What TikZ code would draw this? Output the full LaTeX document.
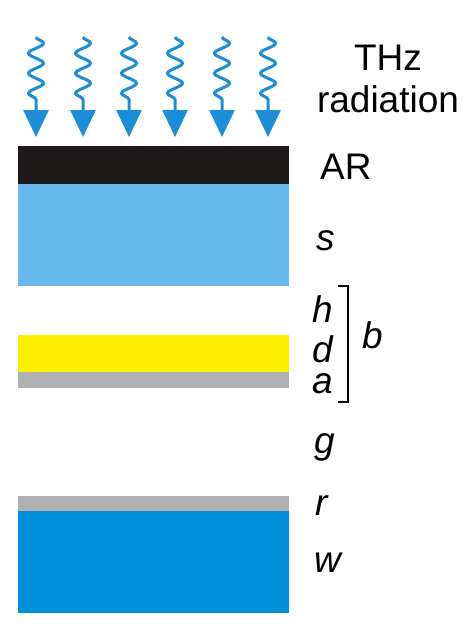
\documentclass[tikz,border=0pt]{standalone}
\usepackage{fontspec}
\setmainfont{Liberation Sans}
\usepackage{xcolor}
\usetikzlibrary{arrows.meta,decorations.pathmorphing}

\definecolor{raycol}{RGB}{27,142,215}
\definecolor{arcol}{RGB}{28,24,24}
\definecolor{subcol}{RGB}{104,186,238}
\definecolor{goldcol}{RGB}{255,240,0}
\definecolor{greycol}{RGB}{176,176,176}
\definecolor{wafcol}{RGB}{0,144,218}

\begin{document}
\begin{tikzpicture}[
    % GLOBAL CFG
    x=1pt, y=-1pt,
    font=\fontsize{37}{40}\selectfont,
    % Styles
    ray/.style={% wavy THz arrows
        draw=raycol,
        line width=3pt,
        decorate,
        decoration={snake, segment length=20pt, amplitude=7.5pt, post length=28pt},
        -{Triangle[width=25pt,length=27pt,fill=raycol]},
        },
    layer/.style={% For the stack
        draw=none,
        },
    lbl/.style={% For the layer names
        anchor=base west,
        inner sep=0pt,
        },
    tight/.style={% letters stacked close together
        lbl,
        text depth=0pt,
        },
    brace/.style={% For the bracket
        line width=1.8pt,
        },
    ]

    \useasboundingbox (0,0) rectangle (474,632);

    % Incoming radiation
    \foreach \i/\xx in {1/36,2/83,3/129,4/175,5/222,6/268}{
        \coordinate (top\i) at (\xx,37);
        \coordinate (tip\i) at (\xx,137);
        \draw [ray] (top\i) -- (tip\i);
    }
    \node [anchor=base] (thz) at (388,70) {THz};
    \node [anchor=base] (rad) at (388,112) {radiation};

    % Draw the layers
    \fill [layer, arcol] (18,146) rectangle (289,184); % AR coating
    \fill [layer, subcol] (18,184) rectangle (289,286); % s
    \fill [layer, goldcol] (18,335) rectangle (289,372); % d
    \fill [layer, greycol] (18,372) rectangle (289,388); % a
    \fill [layer, greycol] (18,496) rectangle (289,511); % r
    \fill [layer, wafcol] (18,511) rectangle (289,613); % w

    % Labels
    \node [lbl] (ar) at (320,179) {AR};
    \node [lbl] (s) at (316,250) {\itshape s};
    \node [tight] (h) at (312,322) {\itshape h};
    \node [tight] (d) at (312,362) {\itshape d};
    \node [tight] (a) at (312,393) {\itshape a};
    \node [lbl] (b) at (362,348) {\itshape b};
    \node [lbl] (g) at (314,453) {\itshape g};
    \node [lbl] (r) at (315,515) {\itshape r};
    \node [lbl] (w) at (314,572) {\itshape w};

    % Bracket round h, d, a
    \coordinate (bt) at (338,286);
    \coordinate (bb) at (338,402);
    \draw [brace] (bt) -- ++(10,0) |- (bb);

\end{tikzpicture}
\end{document}
